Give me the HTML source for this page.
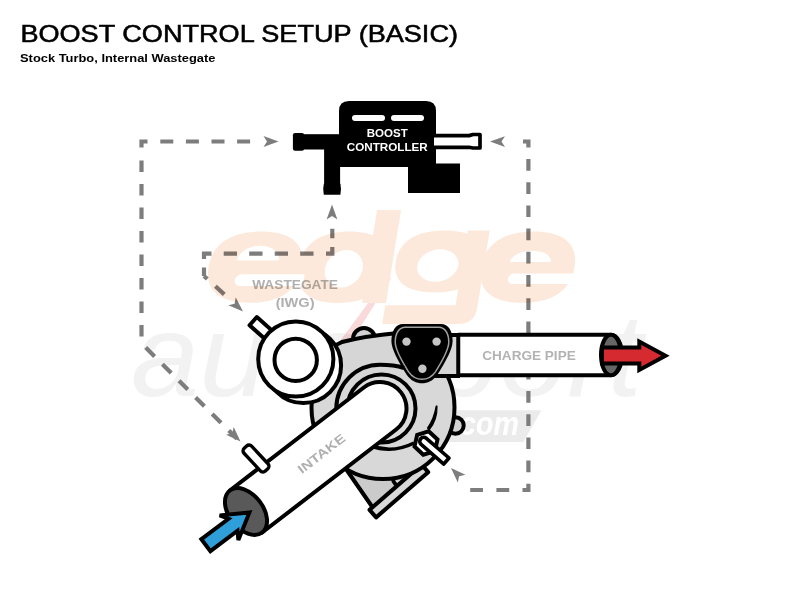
<!DOCTYPE html>
<html><head><meta charset="utf-8">
<style>
html,body{margin:0;padding:0;background:#fff;}
body{width:792px;height:612px;overflow:hidden;}
svg{display:block;}
text{font-family:"Liberation Sans",sans-serif;}
</style></head>
<body>
<svg width="792" height="612" viewBox="0 0 792 612">
<rect width="792" height="612" fill="#fff"/>
<!-- title -->
<text x="20.4" y="41.8" font-size="24" fill="#000" stroke="#000" stroke-width="0.55" textLength="437.6" lengthAdjust="spacingAndGlyphs">BOOST CONTROL SETUP (BASIC)</text>
<text x="20" y="61.8" font-size="11" font-weight="bold" fill="#000" textLength="195.5" lengthAdjust="spacingAndGlyphs">Stock Turbo, Internal Wastegate</text>

<!-- watermark autosport -->
<text x="131" y="396" font-size="117" font-style="italic" fill="#f2f2f2" textLength="511" lengthAdjust="spacingAndGlyphs">autosport</text>
<path d="M445,410.2 L541.5,410.2 L523.3,442 L430,442 Z" fill="#ebebeb"/>
<text x="460" y="435" font-size="33" font-weight="bold" font-style="italic" fill="#fff" textLength="59" lengthAdjust="spacingAndGlyphs">com</text>

<!-- controller -->
<g fill="#000">
<path d="M339,167 V111 Q339,101 349,101 H426 Q436,101 436,111 V167 Z"/>
<rect x="300" y="134.2" width="45" height="15.3"/>
<path d="M295,133.1 H302 Q304,133.1 304.2,135 V148.7 Q304,150.7 302,150.7 H295 Q292.9,150.7 292.9,148.5 V135.3 Q292.9,133.1 295,133.1 Z"/>
<rect x="324.1" y="140" width="16" height="46"/>
<path d="M323.8,183.8 Q322.6,189.3 323.8,194.8 H340.4 Q341.6,189.3 340.4,183.8 Z"/>
<rect x="408" y="163.5" width="52" height="29.5"/>
<rect x="352" y="115" width="33" height="6" rx="3" fill="#fff"/>
<rect x="391" y="115" width="33" height="6" rx="3" fill="#fff"/>
<text x="387.3" y="137.2" font-size="11.5" font-weight="bold" fill="#fff" text-anchor="middle" textLength="41" lengthAdjust="spacingAndGlyphs">BOOST</text>
<text x="387.3" y="151.1" font-size="11.5" font-weight="bold" fill="#fff" text-anchor="middle" textLength="81" lengthAdjust="spacingAndGlyphs">CONTROLLER</text>
</g>
<path d="M434,135.6 H469 L473,134.5 H480 V148 H473 L469,147.3 H434" fill="#fff" stroke="#000" stroke-width="3.7" stroke-linejoin="round"/>

<path d="M139.5,141.5H147.5M141.5,139.5V147.5M160.3,141.5H173.3M185.9,141.5H198.9M211.5,141.5H224.5M237.1,141.5H250.1M141.5,160.4V172.0M141.5,183.9V195.5M141.5,207.4V219.0M141.5,230.9V242.5M141.5,254.4V266.0M141.5,277.9V289.5M141.5,301.4V313.0M141.5,324.9V336.5M145.7,347.5L154.6,356.4M162.4,364.2L171.2,373.0M179.0,380.8L187.8,389.6M195.6,397.4L204.4,406.2M212.2,414.0L221.0,422.8M228.8,430.6L237.0,438.8M332.3,228.7V238.2M332.3,247.2V253.7M334.3,253.7H326M332.3,255.7V247M313.5,253.7H300.2M288.0,253.7H274.7M262.5,253.7H249.2M237.0,253.7H223.7M211.5,253.7H210.0M202,253.7H210.3M204,251.7V259M204.0,267.5V276.0M204.0,276.0L207.3,279.0M215.4,286.3L224.3,294.4M523,141.5H530.5M528.4,139.5V147.5M528.4,159.0V170.7M528.4,182.2V193.9M528.4,205.4V217.1M528.4,228.6V240.3M528.4,251.8V263.5M528.4,275.0V286.7M528.4,298.2V309.9M528.4,321.4V333.1M528.4,344.6V356.3M528.4,367.8V379.5M528.4,391.0V402.7M528.4,414.2V425.9M528.4,437.4V449.1M528.4,460.6V472.3M528.4,483.8V486.0M530.5,490H522.5M528.4,492.1V483.8M509.2,490.0H496.4M483.0,490.0H470.2" stroke="#7d7d7d" stroke-width="4.2" fill="none"/><path transform="translate(278.5,141.5) rotate(0) scale(1.0)" d="M0,0 L-15,-5.4 L-11.5,0 L-15,5.4Z" fill="#7d7d7d"/><path transform="translate(240.5,441.5) rotate(45) scale(1.0)" d="M0,0 L-15,-5.4 L-11.5,0 L-15,5.4Z" fill="#7d7d7d"/><path transform="translate(243,311.5) rotate(43) scale(1.0)" d="M0,0 L-15,-5.4 L-11.5,0 L-15,5.4Z" fill="#7d7d7d"/><path transform="translate(332,204.5) rotate(-90) scale(1.0)" d="M0,0 L-15,-5.4 L-11.5,0 L-15,5.4Z" fill="#7d7d7d"/><path transform="translate(490,141.6) rotate(180) scale(1.0)" d="M0,0 L-15,-5.4 L-11.5,0 L-15,5.4Z" fill="#7d7d7d"/><path transform="translate(451,468) rotate(-135) scale(1.0)" d="M0,0 L-15,-5.4 L-11.5,0 L-15,5.4Z" fill="#7d7d7d"/>

<!-- wastegate label -->
<text x="295.1" y="289.4" font-size="12.4" font-weight="bold" fill="#b0b0b0" text-anchor="middle" textLength="85.8" lengthAdjust="spacingAndGlyphs">WASTEGATE</text>
<text x="295.1" y="307" font-size="12.4" font-weight="bold" fill="#b0b0b0" text-anchor="middle" textLength="38.9" lengthAdjust="spacingAndGlyphs">(IWG)</text>

<!-- edge watermark -->
<g style="mix-blend-mode:multiply">
<path d="M387.5,277 L391,278.5 L349,345 L337,345 Z" fill="#f9d9d9"/>
<g transform="translate(0,303) skewX(-9.2)" fill="#fce9db">
  <path d="M202.75,-35.80 C202.75,-58.94 219.11,-71.40 249.50,-71.40 C279.89,-71.40 296.25,-58.94 296.25,-35.80 C296.25,-12.66 279.89,-0.20 249.50,-0.20 C219.11,-0.20 202.75,-12.66 202.75,-35.80Z"/>
  <path d="M293.00,-35.70 C293.00,-58.91 308.75,-71.40 338.00,-71.40 C367.25,-71.40 383.00,-58.91 383.00,-35.70 C383.00,-12.50 367.25,0.00 338.00,0.00 C308.75,0.00 293.00,-12.50 293.00,-35.70Z"/>
  <path d="M362,-93 H386 V0 H362 Z"/>
  <path d="M389.00,-41.50 C389.00,-61.65 404.40,-72.50 433.00,-72.50 C461.60,-72.50 477.00,-61.65 477.00,-41.50 C477.00,-21.35 461.60,-10.50 433.00,-10.50 C404.40,-10.50 389.00,-21.35 389.00,-41.50Z"/>
  <path d="M456,-72.5 H478 V5 Q478,21 461,21 H385.6 V2.2 H456 Z"/>
  <path d="M475.25,-35.80 C475.25,-58.94 491.61,-71.40 522.00,-71.40 C552.39,-71.40 568.75,-58.94 568.75,-35.80 C568.75,-12.66 552.39,-0.20 522.00,-0.20 C491.61,-0.20 475.25,-12.66 475.25,-35.80Z"/>
  <g fill="#fff">
    <path d="M230.2,-42.6 A20.85,14.6 0 0 1 271.9,-42.6 Z"/>
    <path d="M300,-28.7 H237 A5.85,5.85 0 0 0 237,-17 H300 Z"/>
    <ellipse cx="338.3" cy="-34.2" rx="18.9" ry="18.8"/>
    <ellipse cx="431.7" cy="-37.5" rx="20.5" ry="16.2"/>
    <path d="M503.4,-41 A20.4,11.3 0 0 1 544.2,-41 Z"/>
    <path d="M572,-29.6 H509.3 A5.3,5.3 0 0 0 509.3,-19 H572 Z"/>
  </g>
</g>
</g>

<!-- turbo -->
<g stroke="#000" stroke-width="4" stroke-linejoin="round">
  <!-- bumps -->
  <circle cx="364" cy="339" r="11" fill="#d2d2d2"/>
  <circle cx="455.5" cy="425.5" r="8.2" fill="#d2d2d2"/>
  <!-- bottom center housing -->
  <path d="M346,469 L373,508 L428,461 L414,452 Z" fill="#cbcbcb"/>
  <circle cx="400.5" cy="478.5" r="7.5" fill="#d2d2d2"/>
  <!-- bottom flange -->
  <path transform="translate(400,490) rotate(-41)" d="M-36,-5 H33 V5 H-36 Z" fill="#d8d8d8"/>
  <!-- compressor housing -->
  <circle cx="383" cy="407.5" r="71.5" fill="#d8d8d8"/>
  <!-- turbine housing -->
  <path d="M330,352 L342,342 Q365,336 398,333 L458,333.5 L458,376 L430,380 L382,405 Z" fill="#d6d6d6" stroke="none"/>
  <path d="M334,346 L342,342 Q365,336 398,333" fill="none"/>
  <!-- neck -->
  <path d="M430,335 H460 M430,376 H460" fill="none"/>
  <path d="M437,406 Q437.5,420 429,430 L427.5,428 Q434,419 436.2,406 Z" fill="#000" stroke-width="1.2"/>
  <!-- wastegate -->
  <path transform="translate(295.8,359) rotate(-138.4)" d="M35,-5.5 H57 V5.5 H35 Z" fill="#fff"/>
  <circle cx="303.5" cy="365.5" r="37.6" fill="#fff"/>
  <circle cx="295.8" cy="359" r="37.6" fill="#fff"/>
  <circle cx="295.7" cy="359.9" r="21.2" fill="#fff"/>
  <!-- flange -->
  <path d="M403,323.9 H441 C448.5,323.9 452.6,331 452.6,341 C452.6,349 446,361 437.5,374.5 C433,381 427.5,383.3 422,383.3 C416.5,383.3 411,381 406.5,374.5 C398,361 391.4,349 391.4,341 C391.4,331 395.5,323.9 403,323.9 Z" fill="#000" stroke="none"/>
  <path transform="translate(422,351) scale(0.875) translate(-422,-351)" d="M403,323.9 H441 C448.5,323.9 452.6,331 452.6,341 C452.6,349 446,361 437.5,374.5 C433,381 427.5,383.3 422,383.3 C416.5,383.3 411,381 406.5,374.5 C398,361 391.4,349 391.4,341 C391.4,331 395.5,323.9 403,323.9 Z" fill="none" stroke="#a0a0a0" stroke-width="1.7"/>
  <g stroke="none" fill="#c6c6c6">
    <circle cx="406.5" cy="341.6" r="4.2"/>
    <circle cx="436.6" cy="341.6" r="4.2"/>
    <circle cx="422.4" cy="368.8" r="4.2"/>
  </g>
  <!-- inlet rings -->
  <path d="M336.3,408.5 A43.7,43.7 0 0 1 380,364.8 Q394,364.8 404,368" fill="none"/>
  <circle cx="381.5" cy="408.5" r="34" fill="#dcdcdc"/>
  <path d="M370,445.5 Q392,454 414,443" fill="none" stroke-width="3.6"/>
  <!-- compressor nipple -->
  <path d="M417.2,434.8 L428.7,431.3 L437.5,439.5 L434.8,451.2 L423.3,454.7 L414.5,446.5 Z" fill="#fff" stroke-linejoin="miter"/>
  <g transform="translate(424.5,442) rotate(41)">
    <path d="M-1,-4 H29 V4 H-1 A4,4 0 0 1 -1,-4 Z" fill="#fff" stroke-width="3.6"/>
  </g>
  <!-- intake pipe -->
  <g transform="translate(246,511.5) rotate(-37.55)">
    <path d="M0,-26.5 H169 A26.5,26.5 0 0 1 169,26.5 H0 Z" fill="#fff"/>
    <ellipse cx="0" cy="0" rx="17" ry="26.5" fill="#595959"/>
    <text x="95" y="4.5" font-size="12.5" font-weight="bold" fill="#b0b0b0" stroke="none" text-anchor="middle" textLength="56" lengthAdjust="spacingAndGlyphs">INTAKE</text>
  </g>
  <!-- intake nipple -->
  <g transform="translate(256,458.5) rotate(47)">
    <rect x="-15.5" y="-5.2" width="31" height="10.4" rx="3.5" fill="#fff" stroke-width="3.4"/>
  </g>
  <!-- blue arrow -->
  <g transform="translate(250.6,511.5) rotate(-37)">
    <path d="M-1.5,0 L-27,-15.5 L-22,-7.5 L-56,-7.5 L-56,7.5 L-22,7.5 L-27,15.5 Z" fill="#2e9fd9" stroke-linejoin="miter"/>
  </g>
  <!-- charge pipe -->
  <path d="M458.25,334.75 H611 A11,20.25 0 0 1 611,375.25 H458.25 Z" fill="#fff"/>
  <ellipse cx="611" cy="355" rx="10" ry="20.25" fill="#666"/>
  <text x="529" y="360" font-size="13.7" font-weight="bold" fill="#b3b3b3" stroke="none" text-anchor="middle" textLength="93.5" lengthAdjust="spacingAndGlyphs">CHARGE PIPE</text>
  <!-- red arrow -->
  <path d="M665.5,355.7 L639.3,341.5 L639.3,347.6 L602,347.6 L602,363.4 L639.3,363.4 L639.3,370 Z" fill="#d52b30" stroke-linejoin="miter"/>
</g>
</svg>
</body></html>
